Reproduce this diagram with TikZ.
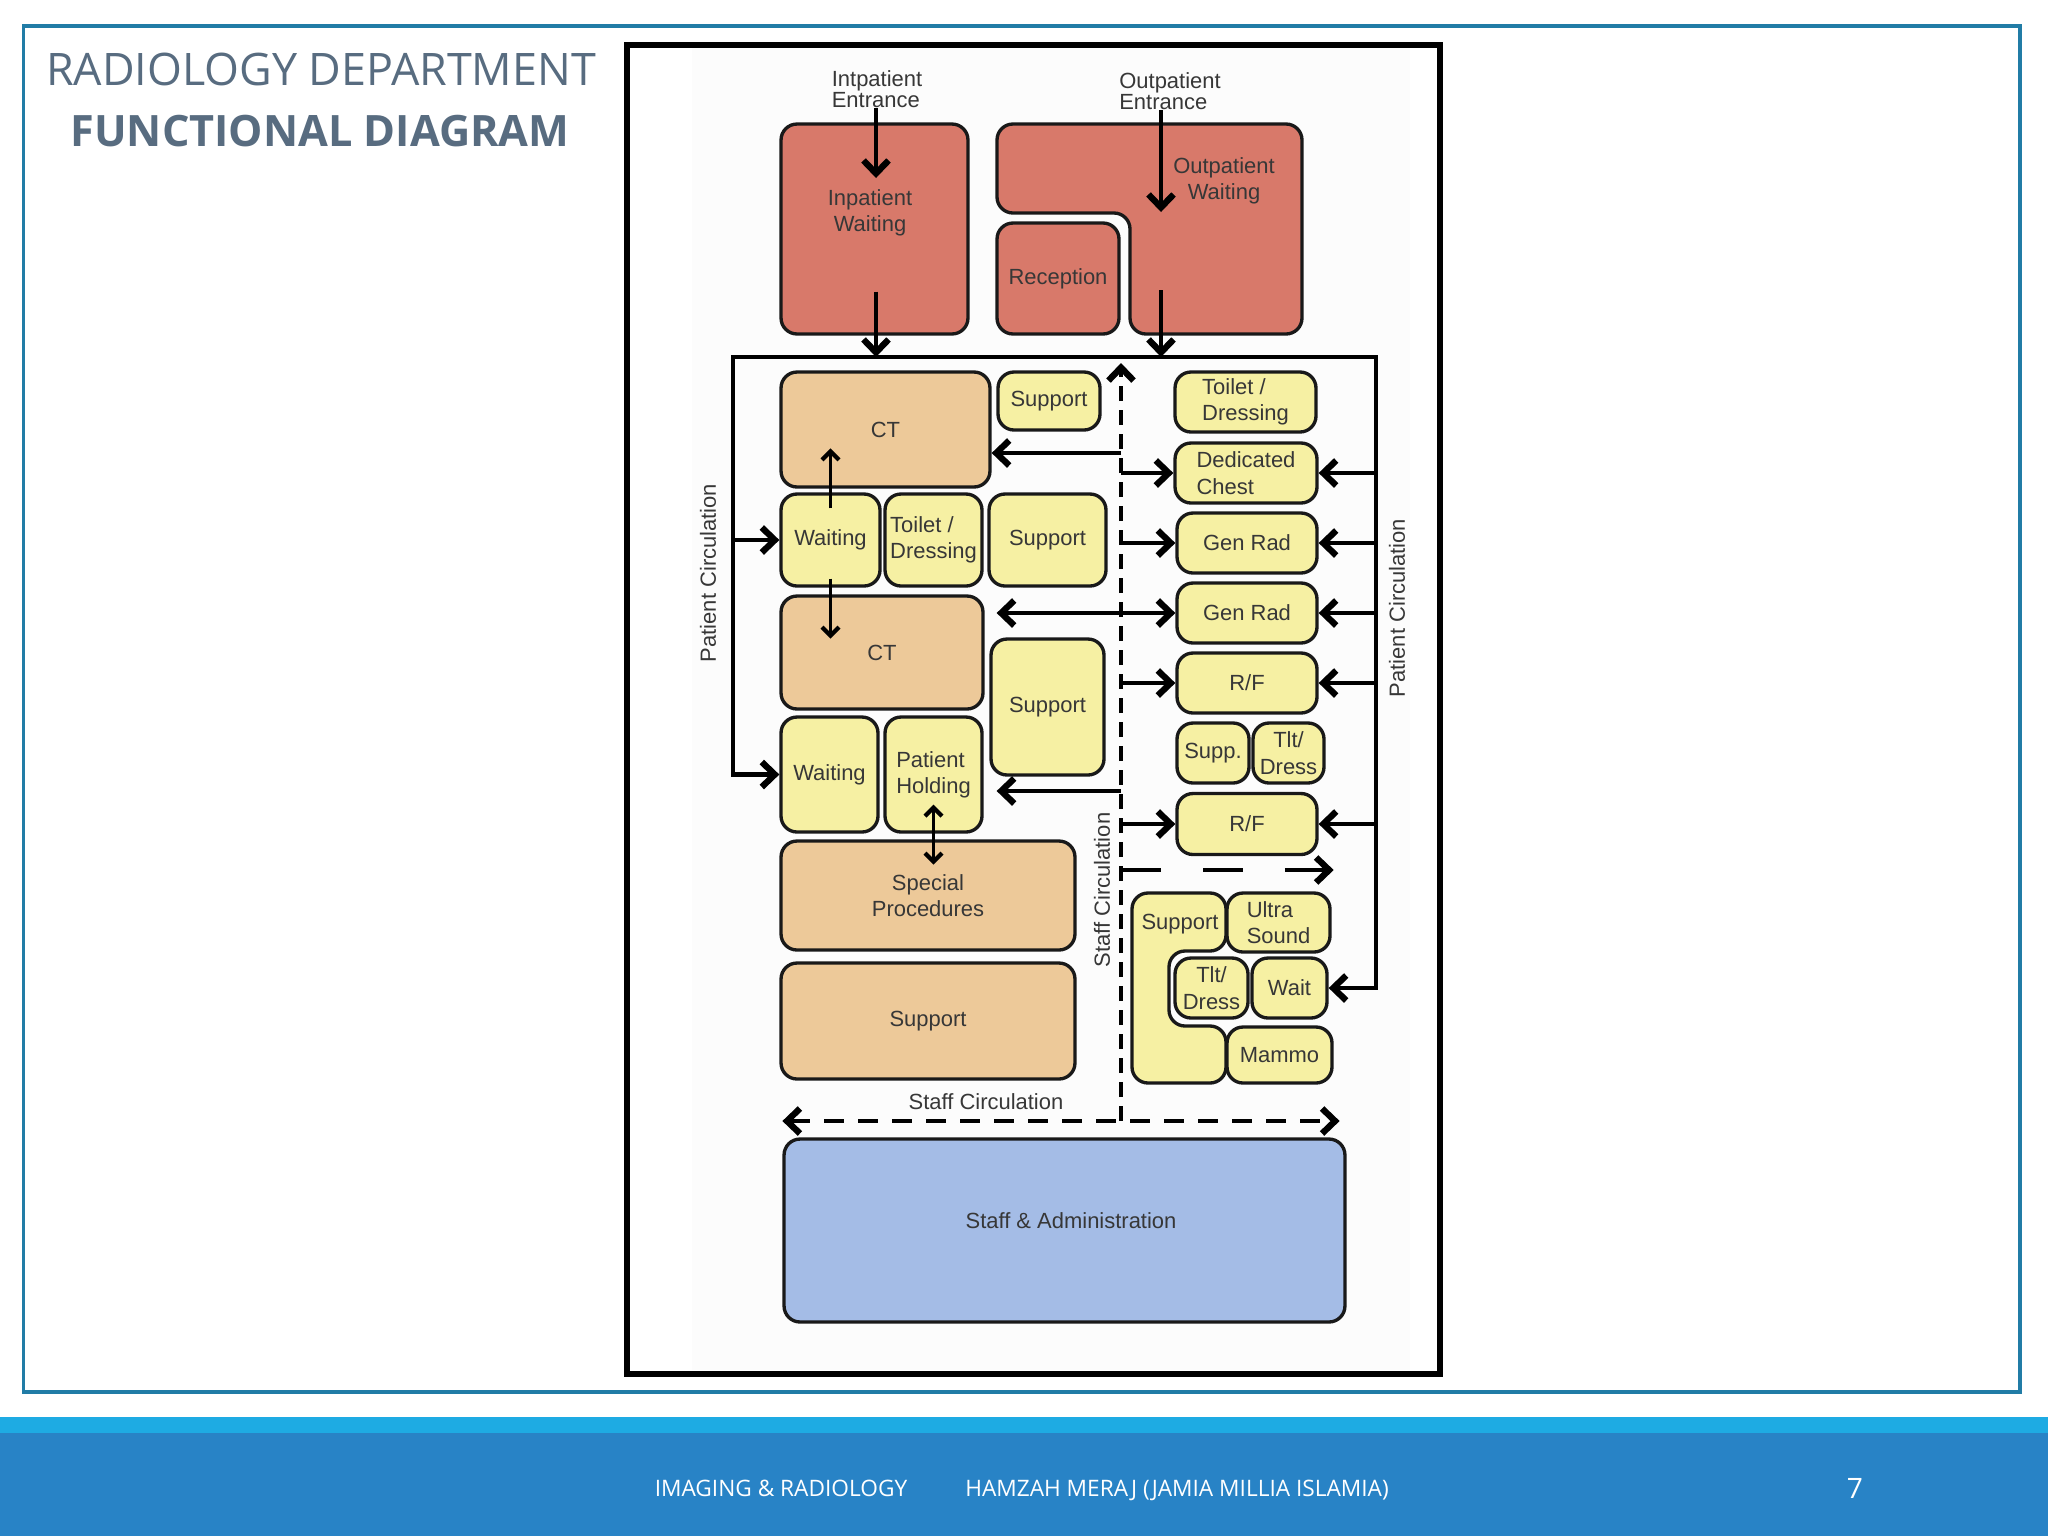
\documentclass[tikz,border=0pt]{standalone}
\usepackage{fontspec}
\setmainfont{Liberation Sans}
\newfontfamily\slidefont{Open Sans}
\usetikzlibrary{positioning, arrows.meta}

\definecolor{entryred}{RGB}{216,121,106}
\definecolor{ctbrown}{RGB}{237,201,153}
\definecolor{roomyellow}{RGB}{246,240,163}
\definecolor{adminblue}{RGB}{164,188,230}
\definecolor{ink}{RGB}{55,55,55}
\definecolor{framecol}{RGB}{33,124,166}
\definecolor{titlecol}{RGB}{88,108,128}
\definecolor{bandlight}{RGB}{30,171,227}
\definecolor{banddark}{RGB}{40,131,198}

\begin{document}
\begin{tikzpicture}[x=0.02cm, y=-0.02cm,
    chev/.tip={Straight Barb[length=0.26cm, width=0.5cm, line width=3.6pt]},
    small/.tip={Straight Barb[length=0.17cm, width=0.34cm, line width=2.4pt]},
    wall/.style={draw=black!90, line width=1.9pt, rounded corners=0.32cm},
    room/.style={wall, inner sep=0pt, text=ink, font=\fontsize{12.5}{15}\selectfont, align=center},
    txt/.style={inner sep=0pt, text=ink, font=\fontsize{12.5}{15}\selectfont, align=center},
    flow/.style={line width=2.4pt, -chev},
    link/.style={line width=1.6pt, -small},
    staff/.style={line width=2.6pt, dash pattern=on 0.3cm off 0.18cm}]

    % slide
    \useasboundingbox (0,0) rectangle (2048,1536);
    \fill[white] (0,0) rectangle (2048,1536);
    \draw[framecol, line width=1.9pt] (23.5,26) rectangle (2020,1392);
    \fill[bandlight] (0,1417) rectangle (2048,1433);
    \fill[banddark] (0,1433) rectangle (2048,1536);
    \node[text=titlecol, font=\slidefont\fontsize{25.5}{30}\selectfont] (title) at (321,69) {RADIOLOGY DEPARTMENT};
    \node[text=titlecol, font=\slidefont\bfseries\fontsize{24.6}{30}\selectfont] (subtitle) at (320,131) {FUNCTIONAL DIAGRAM};
    \node[anchor=base, text=white, font=\slidefont\fontsize{12.9}{15}\selectfont] (foot1) at (781,1496) {IMAGING \& RADIOLOGY};
    \node[anchor=base, text=white, font=\slidefont\fontsize{12.9}{15}\selectfont] (foot2) at (1177,1496) {HAMZAH MERAJ (JAMIA MILLIA ISLAMIA)};
    \node[anchor=base, text=white, font=\slidefont\fontsize{16}{18}\selectfont] (pageno) at (1855,1498) {7};

    % picture frame
    \fill[black!1.2] (692,47) rectangle (1410,1370);
    \draw[line width=3.2pt] (627,45) rectangle (1440,1374);

    % entrances
    \node[room, fill=entryred, minimum width=3.74cm, minimum height=4.2cm] (inw) at (874.5,229) {};
    \node[txt] (inwtext) at (870,213) {Inpatient\\Waiting};
    \draw[wall, fill=entryred] (997,124) -- (1302,124) -- (1302,334) -- (1130,334) -- (1130,213) -- (997,213) -- cycle;
    \node[txt] (outwtext) at (1224,181) {Outpatient\\Waiting};
    \node[room, fill=entryred, minimum width=2.44cm, minimum height=2.22cm] (rec) at (1058,278.5) {Reception};
    \node[txt, align=left, font=\fontsize{12.5}{12}\selectfont] (inent) at (877,89) {Intpatient\\Entrance};
    \node[txt, align=left, font=\fontsize{12.5}{12}\selectfont] (outent) at (1170,91) {Outpatient\\Entrance};

    \coordinate (inT) at (876,178);
    \coordinate (outT) at (1161,212);
    \coordinate (outB) at (1161,290);
    \coordinate (pl) at (733,357);
    \coordinate (pr) at (1376,357);
    \coordinate (st) at (1121,363);
    \coordinate (sb) at (1121,1121);
    \coordinate (sm) at (1121,870);
    \coordinate (sa) at (1121,453);
    \coordinate (sh) at (1121,791);

    % left block
    \node[room, fill=ctbrown, minimum width=4.18cm, minimum height=2.3cm] (ct1) at (885.5,429.5) {CT};
    \node[room, fill=roomyellow, minimum width=2.04cm, minimum height=1.16cm] (supa) at (1049,401) {Support};
    \node[room, fill=roomyellow, minimum width=1.98cm, minimum height=1.84cm] (wait1) at (830.5,540) {Waiting};
    \node[room, fill=roomyellow, minimum width=1.94cm, minimum height=1.84cm, align=left] (tdl) at (933.5,540) {Toilet /\\Dressing};
    \node[room, fill=roomyellow, minimum width=2.34cm, minimum height=1.84cm] (supb) at (1047.5,540) {Support};
    \node[room, fill=ctbrown, minimum width=4.04cm, minimum height=2.26cm] (ct2) at (882,652.5) {CT};
    \node[room, fill=roomyellow, minimum width=2.26cm, minimum height=2.72cm] (supc) at (1047.5,707) {Support};
    \node[room, fill=roomyellow, minimum width=1.94cm, minimum height=2.3cm] (wait2) at (829.5,774.5) {Waiting};
    \node[room, fill=roomyellow, minimum width=1.94cm, minimum height=2.3cm, align=left] (hold) at (933.5,774.5) {Patient\\Holding};
    \node[room, fill=ctbrown, minimum width=5.88cm, minimum height=2.18cm] (spec) at (928,895.5) {Special\\Procedures};
    \node[room, fill=ctbrown, minimum width=5.88cm, minimum height=2.32cm] (supd) at (928,1021) {Support};

    % right block
    \node[room, fill=roomyellow, minimum width=2.82cm, minimum height=1.2cm, align=left] (tdr) at (1245.5,402) {Toilet /\\Dressing};
    \node[room, fill=roomyellow, minimum width=2.84cm, minimum height=1.2cm, align=left] (chest) at (1246,473) {Dedicated\\Chest};
    \node[room, fill=roomyellow, minimum width=2.8cm, minimum height=1.2cm] (gr1) at (1247,543) {Gen Rad};
    \node[room, fill=roomyellow, minimum width=2.8cm, minimum height=1.2cm] (gr2) at (1247,613) {Gen Rad};
    \node[room, fill=roomyellow, minimum width=2.8cm, minimum height=1.2cm] (rf1) at (1247,683) {R/F};
    \node[room, fill=roomyellow, minimum width=1.44cm, minimum height=1.2cm] (supe) at (1213,753) {Supp.};
    \node[room, fill=roomyellow, minimum width=1.42cm, minimum height=1.2cm] (tlt1) at (1288.5,753) {Tlt/\\Dress};
    \node[room, fill=roomyellow, minimum width=2.8cm, minimum height=1.22cm] (rf2) at (1247,824) {R/F};
    \draw[wall, fill=roomyellow] (1132,893) -- (1226,893) -- (1226,951) -- (1169,951) -- (1169,1026) -- (1226,1026) -- (1226,1083) -- (1132,1083) -- cycle;
    \node[txt] (supftext) at (1180,924) {Support};
    \node[room, fill=roomyellow, minimum width=2.06cm, minimum height=1.18cm, align=left] (ultra) at (1278.5,922.5) {Ultra\\Sound};
    \node[room, fill=roomyellow, minimum width=1.46cm, minimum height=1.2cm] (tlt2) at (1211.5,988) {Tlt/\\Dress};
    \node[room, fill=roomyellow, minimum width=1.5cm, minimum height=1.2cm] (wait3) at (1289.5,988) {Wait};
    \node[room, fill=roomyellow, minimum width=2.1cm, minimum height=1.12cm] (mammo) at (1279.5,1055) {Mammo};

    \node[room, fill=adminblue, minimum width=11.22cm, minimum height=3.66cm] (admin) at (1064.5,1230.5) {};
    \node[txt] (admintext) at (1071,1221) {Staff \& Administration};

    % labels
    \node[txt, rotate=90] (pcl) at (708,573) {Patient Circulation};
    \node[txt, rotate=90] (pcr) at (1397,608) {Patient Circulation};
    \node[txt, rotate=90] (scv) at (1102,890) {Staff Circulation};
    \node[txt] (sch) at (986,1102) {Staff Circulation};

    % patient circulation
    \draw[flow] (inent.south -| inT) -- (inT);
    \draw[flow] (outent.south -| outT) -- (outT);
    \draw[flow] ([yshift=0.88cm]inw.south -| inT) -- (inT |- pl);
    \draw[flow] (outB) -- (outB |- pl);
    \draw[line width=2.4pt, chev-chev] (wait2.west) -- (pl |- wait2.west) -- (pl) -- (pr) -- (pr |- wait3.east) -- (wait3.east);
    \path[flow]
        (pl |- wait1.west) edge (wait1.west)
        (pr |- chest.east) edge (chest.east)
        (pr |- gr1.east) edge (gr1.east)
        (pr |- gr2.east) edge (gr2.east)
        (pr |- rf1.east) edge (rf1.east)
        (pr |- rf2.east) edge (rf2.east);

    % staff circulation
    \draw[staff, -chev] (sb) -- (st);
    \draw[staff, dash pattern=on 0.8cm off 0.84cm, -chev] (sm) -- (sm -| mammo.east);
    \draw[staff, dash pattern=on 0.4cm off 0.28cm, chev-chev, shorten >=0.14cm] (sb -| admin.west) -- (sb -| admin.east);
    \path[flow]
        (st |- chest.west) edge (chest.west)
        (st |- gr1.west) edge (gr1.west)
        (st |- rf1.west) edge (rf1.west)
        (st |- rf2.west) edge (rf2.west)
        (sa) edge (sa -| ct1.east)
        (sh) edge[shorten >=0.26cm] (sh -| hold.east);
    \draw[line width=2.4pt, chev-chev, shorten <=0.24cm] (gr2.west -| ct2.east) -- (gr2.west);

    % room to room
    \draw[link] ([yshift=-0.32cm]wait1.north) -- ([yshift=0.88cm]wait1.north);
    \draw[link] ([yshift=0.18cm]wait1.south) -- ([yshift=-1.02cm]wait1.south);
    \draw[line width=1.6pt, small-small] ([yshift=0.58cm]hold.south) -- ([yshift=-0.62cm]hold.south);
\end{tikzpicture}
\end{document}
